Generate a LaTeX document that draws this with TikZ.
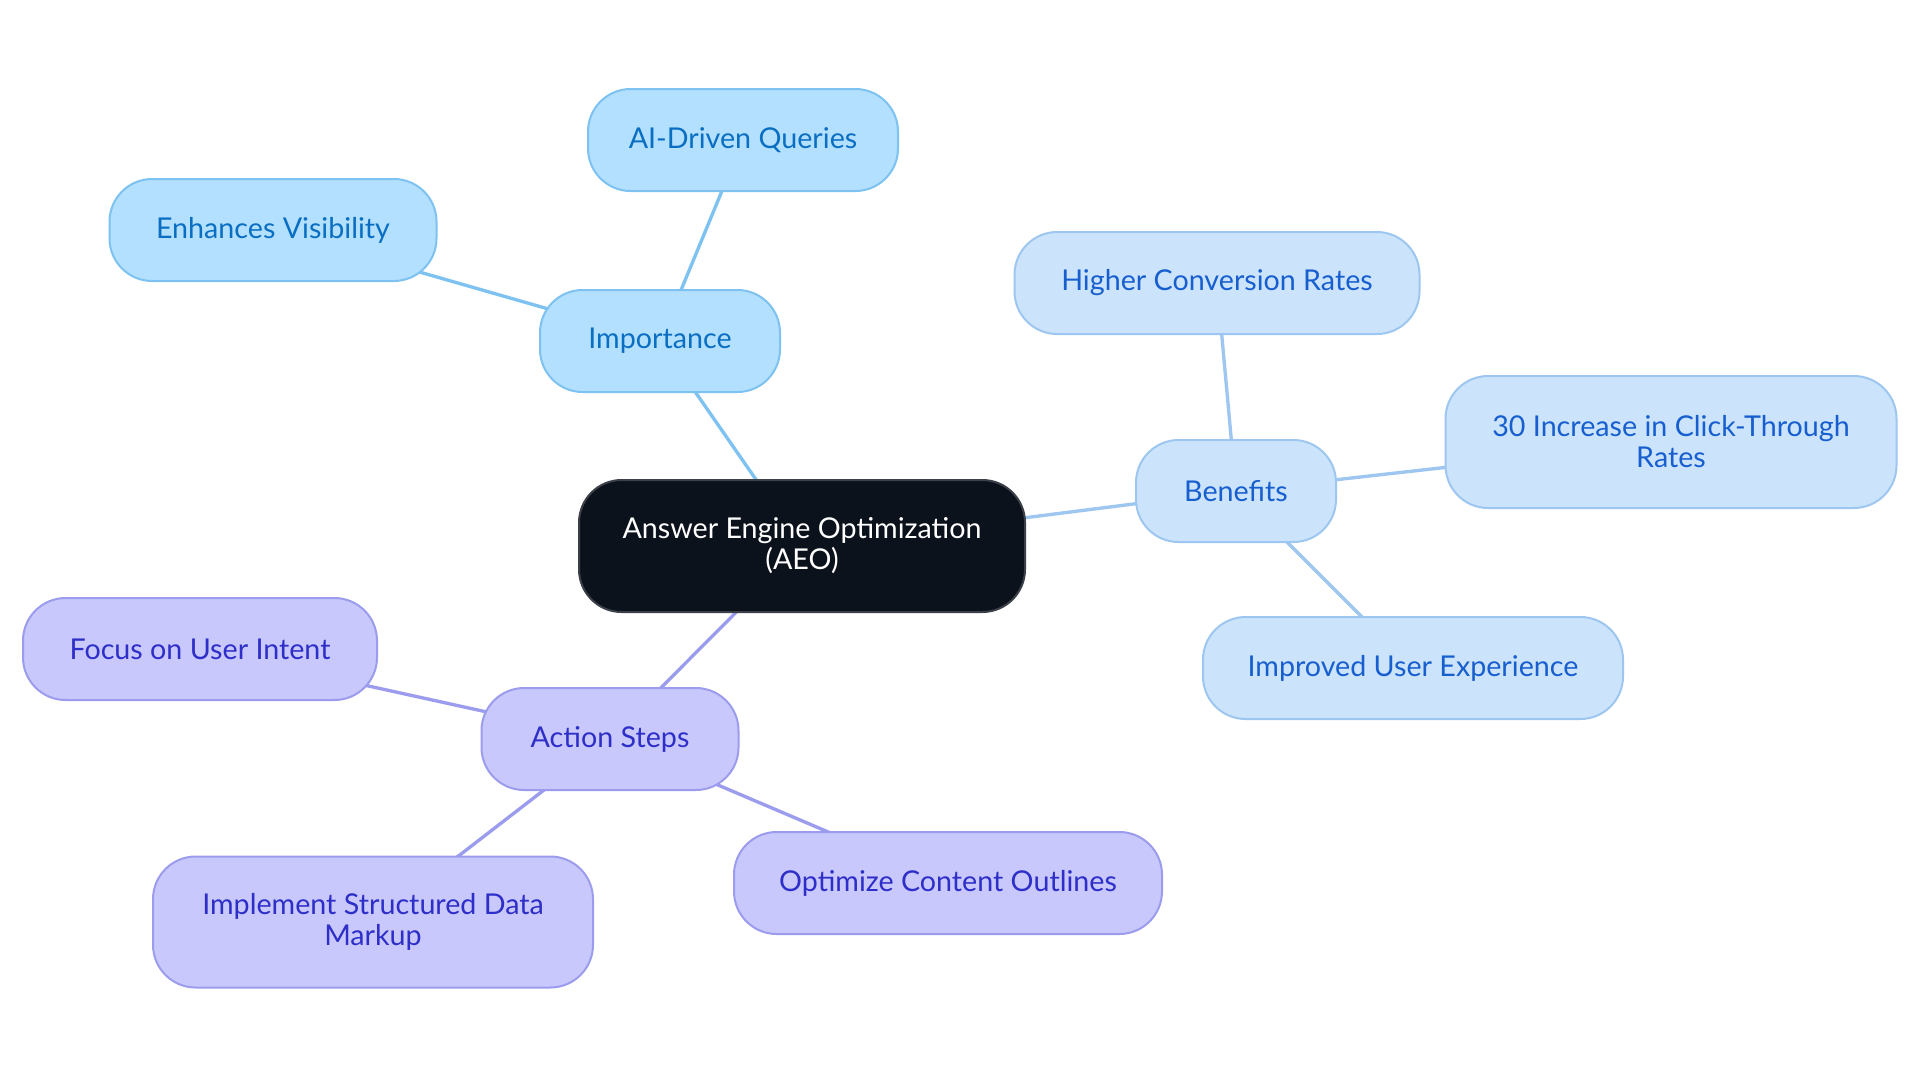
\documentclass[tikz,border=0pt]{standalone}
\usepackage{fontspec}
\setmainfont{Lato}
\usetikzlibrary{backgrounds}
\definecolor{impfill}{HTML}{B3E0FF}
\definecolor{impdraw}{HTML}{7DC2F0}
\definecolor{imptext}{HTML}{0A6FC2}
\definecolor{benfill}{HTML}{CCE4FB}
\definecolor{bendraw}{HTML}{9DC6F0}
\definecolor{bentext}{HTML}{175ECF}
\definecolor{actfill}{HTML}{C8C8FC}
\definecolor{actdraw}{HTML}{9C9CEE}
\definecolor{acttext}{HTML}{2E2EC8}
\definecolor{cenfill}{HTML}{0C121C}
\definecolor{cendraw}{HTML}{3C4048}
\tikzset{
  box/.style={rectangle, rounded corners=32pt, line width=1.5pt, inner sep=0pt,
    align=center, font=\fontsize{21.5}{23.25}\selectfont},
  impbox/.style={box, fill=impfill, draw=impdraw, text=imptext},
  benbox/.style={box, fill=benfill, draw=bendraw, text=bentext},
  actbox/.style={box, fill=actfill, draw=actdraw, text=acttext},
  cenbox/.style={box, fill=cenfill, draw=cendraw, text=white},
  dims/.style 2 args={minimum width=#1*0.75pt, minimum height=#2*0.75pt},
  implink/.style={draw=impdraw, line width=2.5pt},
  benlink/.style={draw=bendraw, line width=2.5pt},
  actlink/.style={draw=actdraw, line width=2.5pt},
}
\begin{document}
\begin{tikzpicture}[x=0.75pt, y=-0.75pt]
\useasboundingbox (0,0) rectangle (1920,1083);
\node[cenbox, dims={446}{132}] (aeo) at (802,546) {Answer Engine Optimization\\(AEO)};
\node[impbox, dims={240}{102}] (imp) at (660,341) {Importance};
\node[impbox, dims={310}{102}] (aiq) at (743,140) {AI-Driven Queries};
\node[impbox, dims={327}{102}] (vis) at (273,230) {Enhances Visibility};
\node[benbox, dims={200}{102}] (ben) at (1236,491) {Benefits};
\node[benbox, dims={405}{102}] (hcr) at (1217,283) {Higher Conversion Rates};
\node[benbox, dims={451}{132}] (ctr) at (1671,442) {30 Increase in Click-Through\\Rates};
\node[benbox, dims={420}{102}] (ux) at (1413,668) {Improved User Experience};
\node[actbox, dims={257}{102}] (act) at (610,739) {Action Steps};
\node[actbox, dims={354}{102}] (fui) at (200,649) {Focus on User Intent};
\node[actbox, dims={440}{131}] (sdm) at (373,922) {Implement Structured Data\\Markup};
\node[actbox, dims={428}{102}] (oco) at (948,883) {Optimize Content Outlines};
\begin{scope}[on background layer]
\fill[white] (0,0) rectangle (1920,1083);
\draw[implink] (aeo.center) -- (imp.center);
\draw[implink] (imp.center) -- (aiq.center);
\draw[implink] (imp.center) -- (vis.center);
\draw[benlink] (aeo.center) -- (ben.center);
\draw[benlink] (ben.center) -- (hcr.center);
\draw[benlink] (ben.center) -- (ctr.center);
\draw[benlink] (ben.center) -- (ux.center);
\draw[actlink] (aeo.center) -- (act.center);
\draw[actlink] (act.center) -- (fui.center);
\draw[actlink] (act.center) -- (sdm.center);
\draw[actlink] (act.center) -- (oco.center);
\end{scope}
\end{tikzpicture}
\end{document}
